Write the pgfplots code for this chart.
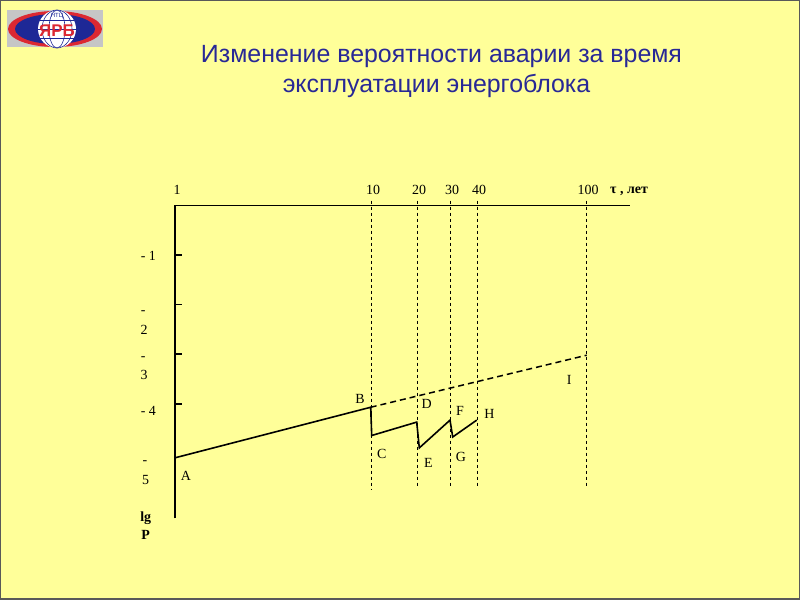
\documentclass[border=0pt]{standalone}
\usepackage{pgfplots}
\pgfplotsset{compat=1.18}
\usepackage{fontspec}
\setmainfont{Liberation Serif}
\newfontfamily\arial{Liberation Sans}
\definecolor{bgy}{RGB}{255,255,153}
\definecolor{ttl}{RGB}{40,40,150}
\definecolor{logored}{RGB}{220,40,50}
\definecolor{logoblue}{RGB}{30,40,150}
\begin{document}
\begin{tikzpicture}[x=1bp,y=1bp,font=\fontsize{14}{16}\selectfont]
\fill[bgy] (0,0) rectangle (800,600);
\draw[gray!70!black, line width=1.5bp] (0.75,0.75) rectangle (799.25,599.25);
% logo
\fill[gray!45] (7,553) rectangle (103,590);
\fill[logored] (55,571) ellipse [x radius=47, y radius=18];
\fill[logoblue] (55,571) ellipse [x radius=40, y radius=15];
\fill[white] (57,571) circle [radius=19];
\draw[logoblue, line width=0.6bp] (57,571) ellipse [x radius=8, y radius=19];
\draw[logoblue, line width=0.6bp] (57,571) ellipse [x radius=15, y radius=19];
\draw[logoblue, line width=0.6bp] (38,571) -- (76,571) (40,580) -- (74,580) (40,562) -- (74,562);
\node[font=\arial\bfseries\fontsize{17}{17}\selectfont, text=logored] at (57,569) {ЯРБ};
\node[font=\arial\fontsize{6}{6}\selectfont, text=logoblue] at (57,584) {НТЦ};
% title
\node[anchor=base, font=\arial\fontsize{25}{30}\selectfont, text=ttl] at (441.5,537) {Изменение вероятности аварии за время};
\node[anchor=base, font=\arial\fontsize{25}{30}\selectfont, text=ttl] at (436.5,507) {эксплуатации энергоблока};
\begin{axis}[at={(175bp,394.5bp)}, anchor=north west, scale only axis,
  width=455bp, height=312.8bp,
  xmin=175, xmax=630, ymin=-6.31, ymax=0,
  axis x line*=top, axis y line*=left,
  axis line style={-, line width=1.4bp, black},
  clip=false,
  xtick={175,371,417,450,477,586}, xticklabels={1,10,20,30,40,100},
  xtick style={draw=none},
  xticklabel style={font=\fontsize{14}{16}\selectfont, yshift=7.5bp, xshift=2bp},
  ytick={-1,-2,-3,-4}, yticklabels={},
  tick align=inside, major tick length=7bp,
  ytick style={line width=1.5bp, black}]
% vertical dashed guides
\addplot[black, line width=0.7bp, dash pattern=on 3.5bp off 2.5bp] coordinates {(371,0.1) (371,-5.73)};
\addplot[black, line width=0.7bp, dash pattern=on 3.5bp off 2.5bp] coordinates {(417,0.1) (417,-5.65)};
\addplot[black, line width=0.7bp, dash pattern=on 3.5bp off 2.5bp] coordinates {(450,0.1) (450,-5.65)};
\addplot[black, line width=0.7bp, dash pattern=on 3.5bp off 2.5bp] coordinates {(477,0.1) (477,-5.65)};
\addplot[black, line width=0.7bp, dash pattern=on 3.5bp off 2.5bp] coordinates {(586,0.1) (586,-5.69)};
% main curve
\addplot[black, line width=1.6bp] coordinates {(175,-5.09) (370.7,-4.07) (371.7,-4.64) (416.7,-4.37) (419.3,-4.89) (450,-4.33) (452.7,-4.67) (476.7,-4.33)};
% extrapolation
\addplot[black, line width=1.5bp, dash pattern=on 6bp off 4bp] coordinates {(370.7,-4.07) (586.7,-3.02)};
% point labels
\node[font=\fontsize{14}{16}\selectfont] at (axis cs:186,-5.46) {A};
\node[font=\fontsize{14}{16}\selectfont] at (axis cs:360,-3.90) {B};
\node[font=\fontsize{14}{16}\selectfont] at (axis cs:381.7,-5.01) {C};
\node[font=\fontsize{14}{16}\selectfont] at (axis cs:426.7,-4.00) {D};
\node[font=\fontsize{14}{16}\selectfont] at (axis cs:428.3,-5.20) {E};
\node[font=\fontsize{14}{16}\selectfont] at (axis cs:460,-4.15) {F};
\node[font=\fontsize{14}{16}\selectfont] at (axis cs:461,-5.07) {G};
\node[font=\fontsize{14}{16}\selectfont] at (axis cs:489.3,-4.20) {H};
\node[font=\fontsize{14}{16}\selectfont] at (axis cs:569.3,-3.51) {I};
% y labels
\node[anchor=base, font=\fontsize{14}{16}\selectfont] at (axis cs:148.3,-1.103) {- 1};
\node[anchor=base, font=\fontsize{14}{16}\selectfont] at (axis cs:143.3,-2.20) {-};
\node[anchor=base, font=\fontsize{14}{16}\selectfont] at (axis cs:144,-2.60) {2};
\node[anchor=base, font=\fontsize{14}{16}\selectfont] at (axis cs:143.3,-3.13) {-};
\node[anchor=base, font=\fontsize{14}{16}\selectfont] at (axis cs:144,-3.52) {3};
\node[anchor=base, font=\fontsize{14}{16}\selectfont] at (axis cs:148.3,-4.23) {- 4};
\node[anchor=base, font=\fontsize{14}{16}\selectfont] at (axis cs:145,-5.226) {-};
\node[anchor=base, font=\fontsize{14}{16}\selectfont] at (axis cs:145.7,-5.625) {5};
\node[anchor=base, font=\bfseries\fontsize{14}{16}\selectfont] at (axis cs:145.7,-6.38) {lg};
\node[anchor=base, font=\bfseries\fontsize{14}{16}\selectfont] at (axis cs:145.7,-6.74) {P};
\node[anchor=base west, inner sep=0pt, font=\bfseries\fontsize{14}{16}\selectfont] at (axis cs:610,0.25) {τ , лет};
\end{axis}
\end{tikzpicture}
\end{document}
